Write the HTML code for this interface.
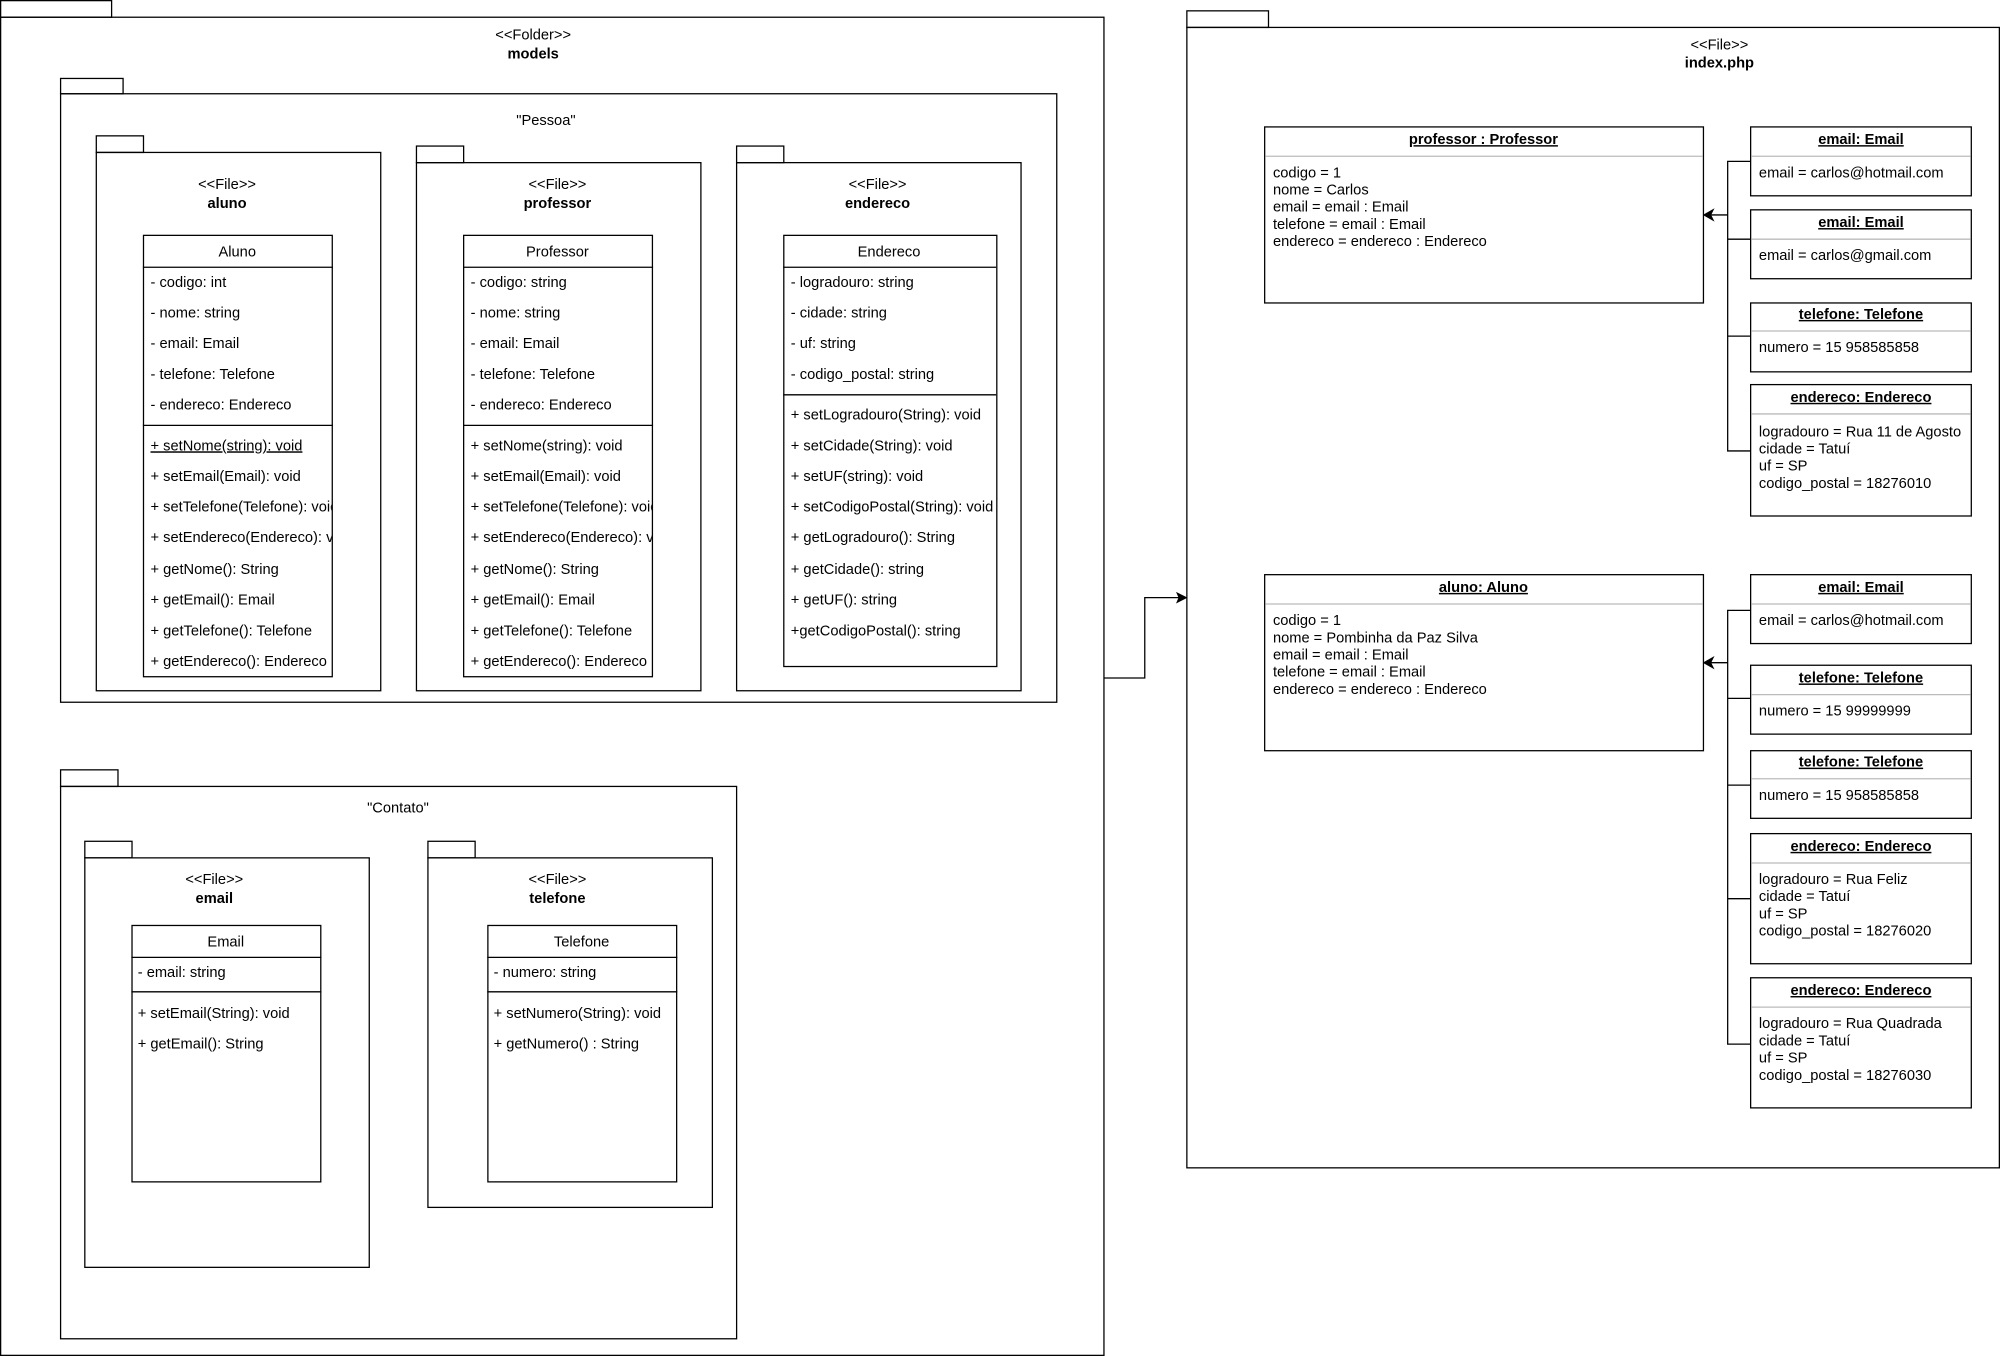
<!DOCTYPE html>
<html><head><meta charset="utf-8"><style>
html,body{margin:0;padding:0;background:#fff;}
svg{display:block;}
text{font-family:"Liberation Sans",Arial,sans-serif;font-size:11.5px;fill:#000;}
.b{font-weight:bold;}
.c{text-anchor:middle;}
.u{text-decoration:underline;}
rect,path,line{fill:none;stroke:#000;stroke-width:1;}
.g{stroke:#bbb;}
</style></head><body>
<svg width="2000" height="1356" viewBox="0 0 1568 1063" preserveAspectRatio="none" xmlns="http://www.w3.org/2000/svg">
<defs>
<clipPath id="ca"><rect x="112" y="184" width="148" height="346"/></clipPath>
<clipPath id="cp"><rect x="363" y="184" width="148" height="346"/></clipPath>
</defs>
<rect x="0" y="0" width="1568" height="1063" style="fill:#fff;stroke:none"/>
<!-- models folder -->
<rect x="0.5" y="0.5" width="87" height="13"/>
<rect x="0.5" y="13.5" width="865" height="1049"/>
<text class="c" x="418" y="31">&lt;&lt;Folder&gt;&gt;</text>
<text class="c b" x="418" y="46">models</text>

<!-- Pessoa -->
<rect x="47.5" y="61.5" width="49" height="12"/>
<rect x="47.5" y="73.5" width="781" height="477"/>
<text class="c" x="428" y="98">"Pessoa"</text>

<!-- aluno file -->
<rect x="75.5" y="106.5" width="37" height="13"/>
<rect x="75.5" y="119.5" width="223" height="422"/>
<text class="c" x="178" y="148">&lt;&lt;File&gt;&gt;</text>
<text class="c b" x="178" y="163">aluno</text>
<rect x="112.5" y="184.5" width="148" height="346"/>
<line x1="112" y1="209.5" x2="261" y2="209.5"/>
<line x1="112" y1="333.5" x2="261" y2="333.5"/>
<text class="c" x="186" y="201">Aluno</text>
<g clip-path="url(#ca)">
<text x="118" y="225">- codigo: int</text>
<text x="118" y="249">- nome: string</text>
<text x="118" y="273">- email: Email</text>
<text x="118" y="297">- telefone: Telefone</text>
<text x="118" y="321">- endereco: Endereco</text>
<text class="u" x="118" y="353">+ setNome(string): void</text>
<text x="118" y="377">+ setEmail(Email): void</text>
<text x="118" y="401">+ setTelefone(Telefone): void</text>
<text x="118" y="425">+ setEndereco(Endereco): void</text>
<text x="118" y="450">+ getNome(): String</text>
<text x="118" y="474">+ getEmail(): Email</text>
<text x="118" y="498">+ getTelefone(): Telefone</text>
<text x="118" y="522">+ getEndereco(): Endereco</text>
</g>

<!-- professor file -->
<rect x="326.5" y="114.5" width="37" height="13"/>
<rect x="326.5" y="127.5" width="223" height="414"/>
<text class="c" x="437" y="148">&lt;&lt;File&gt;&gt;</text>
<text class="c b" x="437" y="163">professor</text>
<rect x="363.5" y="184.5" width="148" height="346"/>
<line x1="363" y1="209.5" x2="512" y2="209.5"/>
<line x1="363" y1="333.5" x2="512" y2="333.5"/>
<text class="c" x="437" y="201">Professor</text>
<g clip-path="url(#cp)">
<text x="369" y="225">- codigo: string</text>
<text x="369" y="249">- nome: string</text>
<text x="369" y="273">- email: Email</text>
<text x="369" y="297">- telefone: Telefone</text>
<text x="369" y="321">- endereco: Endereco</text>
<text x="369" y="353">+ setNome(string): void</text>
<text x="369" y="377">+ setEmail(Email): void</text>
<text x="369" y="401">+ setTelefone(Telefone): void</text>
<text x="369" y="425">+ setEndereco(Endereco): void</text>
<text x="369" y="450">+ getNome(): String</text>
<text x="369" y="474">+ getEmail(): Email</text>
<text x="369" y="498">+ getTelefone(): Telefone</text>
<text x="369" y="522">+ getEndereco(): Endereco</text>
</g>

<!-- endereco file -->
<rect x="577.5" y="114.5" width="37" height="13"/>
<rect x="577.5" y="127.5" width="223" height="414"/>
<text class="c" x="688" y="148">&lt;&lt;File&gt;&gt;</text>
<text class="c b" x="688" y="163">endereco</text>
<rect x="614.5" y="184.5" width="167" height="338"/>
<line x1="614" y1="209.5" x2="781" y2="209.5"/>
<line x1="614" y1="309.5" x2="781" y2="309.5"/>
<text class="c" x="697" y="201">Endereco</text>
<text x="620" y="225">- logradouro: string</text>
<text x="620" y="249">- cidade: string</text>
<text x="620" y="273">- uf: string</text>
<text x="620" y="297">- codigo_postal: string</text>
<text x="620" y="329">+ setLogradouro(String): void</text>
<text x="620" y="353">+ setCidade(String): void</text>
<text x="620" y="377">+ setUF(string): void</text>
<text x="620" y="401">+ setCodigoPostal(String): void</text>
<text x="620" y="425">+ getLogradouro(): String</text>
<text x="620" y="450">+ getCidade(): string</text>
<text x="620" y="474">+ getUF(): string</text>
<text x="620" y="498">+getCodigoPostal(): string</text>

<!-- Contato -->
<rect x="47.5" y="603.5" width="45" height="13"/>
<rect x="47.5" y="616.5" width="530" height="433"/>
<text class="c" x="312" y="637">"Contato"</text>

<rect x="66.5" y="659.5" width="37" height="13"/>
<rect x="66.5" y="672.5" width="223" height="321"/>
<text class="c" x="168" y="693">&lt;&lt;File&gt;&gt;</text>
<text class="c b" x="168" y="708">email</text>
<rect x="103.5" y="725.5" width="148" height="201"/>
<line x1="103" y1="750.5" x2="252" y2="750.5"/>
<line x1="103" y1="777.5" x2="252" y2="777.5"/>
<text class="c" x="177" y="742">Email</text>
<text x="108" y="766">- email: string</text>
<text x="108" y="798">+ setEmail(String): void</text>
<text x="108" y="822">+ getEmail(): String</text>

<rect x="335.5" y="659.5" width="37" height="13"/>
<rect x="335.5" y="672.5" width="223" height="274"/>
<text class="c" x="437" y="693">&lt;&lt;File&gt;&gt;</text>
<text class="c b" x="437" y="708">telefone</text>
<rect x="382.5" y="725.5" width="148" height="201"/>
<line x1="382" y1="750.5" x2="531" y2="750.5"/>
<line x1="382" y1="777.5" x2="531" y2="777.5"/>
<text class="c" x="456" y="742">Telefone</text>
<text x="387" y="766">- numero: string</text>
<text x="387" y="798">+ setNumero(String): void</text>
<text x="387" y="822">+ getNumero() : String</text>

<!-- connector -->
<path d="M865.5 531.5 H897.5 V468.5 H924"/>
<path d="M930 468.5 L923 465 L924.5 468.5 L923 472 Z" style="fill:#000"/>

<!-- index.php -->
<rect x="930.5" y="8.5" width="64" height="13"/>
<rect x="930.5" y="21.5" width="637" height="894"/>
<text class="c" x="1348" y="39">&lt;&lt;File&gt;&gt;</text>
<text class="c b" x="1348" y="53">index.php</text>

<!-- professor obj -->
<rect x="991.5" y="99.5" width="344" height="138"/>
<line class="g" x1="992" y1="122.5" x2="1335" y2="122.5"/>
<text class="c b u" x="1163" y="113">professor : Professor</text>
<text x="998" y="139">codigo = 1</text>
<text x="998" y="152.5">nome = Carlos</text>
<text x="998" y="166">email = email : Email</text>
<text x="998" y="179.5">telefone = email : Email</text>
<text x="998" y="193">endereco = endereco : Endereco</text>

<rect x="1372.5" y="99.5" width="173" height="54"/>
<line class="g" x1="1373" y1="122.5" x2="1545" y2="122.5"/>
<text class="c b u" x="1459" y="113">email: Email</text>
<text x="1379" y="139">email = carlos@hotmail.com</text>
<rect x="1372.5" y="164.5" width="173" height="54"/>
<line class="g" x1="1373" y1="187.5" x2="1545" y2="187.5"/>
<text class="c b u" x="1459" y="178">email: Email</text>
<text x="1379" y="204">email = carlos@gmail.com</text>
<rect x="1372.5" y="237.5" width="173" height="54"/>
<line class="g" x1="1373" y1="259.5" x2="1545" y2="259.5"/>
<text class="c b u" x="1459" y="250">telefone: Telefone</text>
<text x="1379" y="276">numero = 15 958585858</text>
<rect x="1372.5" y="301.5" width="173" height="103"/>
<line class="g" x1="1373" y1="324.5" x2="1545" y2="324.5"/>
<text class="c b u" x="1459" y="315">endereco: Endereco</text>
<text x="1379" y="342">logradouro = Rua 11 de Agosto</text>
<text x="1379" y="355.5">cidade = Tatuí</text>
<text x="1379" y="369">uf = SP</text>
<text x="1379" y="382.5">codigo_postal = 18276010</text>
<path d="M1372 126.5 H1354.5 V353.5 H1372 M1354.5 187.5 H1372 M1354.5 263.5 H1372 M1354.5 168.5 H1341"/>
<path d="M1336 168.5 L1343 164.5 L1341 168.5 L1343 172.5 Z" style="fill:#000"/>

<!-- aluno obj -->
<rect x="991.5" y="450.5" width="344" height="138"/>
<line class="g" x1="992" y1="473.5" x2="1335" y2="473.5"/>
<text class="c b u" x="1163" y="464">aluno: Aluno</text>
<text x="998" y="490">codigo = 1</text>
<text x="998" y="503.5">nome = Pombinha da Paz Silva</text>
<text x="998" y="517">email = email : Email</text>
<text x="998" y="530.5">telefone = email : Email</text>
<text x="998" y="544">endereco = endereco : Endereco</text>

<rect x="1372.5" y="450.5" width="173" height="54"/>
<line class="g" x1="1373" y1="473.5" x2="1545" y2="473.5"/>
<text class="c b u" x="1459" y="464">email: Email</text>
<text x="1379" y="490">email = carlos@hotmail.com</text>
<rect x="1372.5" y="521.5" width="173" height="54"/>
<line class="g" x1="1373" y1="544.5" x2="1545" y2="544.5"/>
<text class="c b u" x="1459" y="535">telefone: Telefone</text>
<text x="1379" y="561">numero = 15 99999999</text>
<rect x="1372.5" y="588.5" width="173" height="53"/>
<line class="g" x1="1373" y1="610.5" x2="1545" y2="610.5"/>
<text class="c b u" x="1459" y="601">telefone: Telefone</text>
<text x="1379" y="627">numero = 15 958585858</text>
<rect x="1372.5" y="653.5" width="173" height="102"/>
<line class="g" x1="1373" y1="676.5" x2="1545" y2="676.5"/>
<text class="c b u" x="1459" y="667">endereco: Endereco</text>
<text x="1379" y="693">logradouro = Rua Feliz</text>
<text x="1379" y="706.5">cidade = Tatuí</text>
<text x="1379" y="720">uf = SP</text>
<text x="1379" y="733.5">codigo_postal = 18276020</text>
<rect x="1372.5" y="766.5" width="173" height="102"/>
<line class="g" x1="1373" y1="789.5" x2="1545" y2="789.5"/>
<text class="c b u" x="1459" y="780">endereco: Endereco</text>
<text x="1379" y="806">logradouro = Rua Quadrada</text>
<text x="1379" y="819.5">cidade = Tatuí</text>
<text x="1379" y="833">uf = SP</text>
<text x="1379" y="846.5">codigo_postal = 18276030</text>
<path d="M1372 478.5 H1354.5 V818.5 H1372 M1354.5 547.5 H1372 M1354.5 615.5 H1372 M1354.5 704.5 H1372 M1354.5 519.5 H1341"/>
<path d="M1336 519.5 L1343 515.5 L1341 519.5 L1343 523.5 Z" style="fill:#000"/>
</svg>
</body></html>
